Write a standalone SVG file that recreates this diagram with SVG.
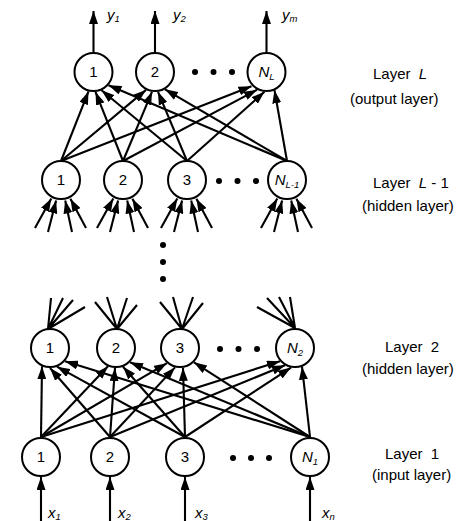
<svg xmlns="http://www.w3.org/2000/svg" width="474" height="521" viewBox="0 0 474 521">
<style>
.n{fill:#fff;stroke:#000;stroke-width:2}
.t{font-family:"Liberation Sans",Arial,sans-serif;font-size:15px;fill:#000}
.c{text-anchor:middle}
.i{font-style:italic}
.sub{font-size:9.5px;font-style:italic}
.e{fill:none;stroke:#000;stroke-width:2.1}
.a{marker-end:url(#ah)}
.d{fill:#000}
</style>
<defs>
<marker id="ah" viewBox="0 0 13 9" refX="13" refY="4.5" markerWidth="13" markerHeight="9" markerUnits="userSpaceOnUse" orient="auto"><path d="M0,0 L13,4.5 L0,9 z" fill="#000"/></marker>
</defs>
<rect width="474" height="521" fill="#fff"/>
<g id="connectors">
<path class="e a" d="M93.5,52 V11"/>
<path class="e a" d="M155,52 V11"/>
<path class="e a" d="M266.5,52 V11"/>
<path class="e a" d="M41,521 V477"/>
<path class="e a" d="M110,521 V477"/>
<path class="e a" d="M185,521 V477"/>
<path class="e a" d="M310,521 V477"/>
<path class="e a" d="M61,161 L88.5,91.4"/>
<path class="e a" d="M123,161 L95.5,91.9"/>
<path class="e a" d="M187,161 L101.5,90.3"/>
<path class="e a" d="M287,161 L108.5,85.2"/>
<path class="e a" d="M61,161 L146,89.9"/>
<path class="e a" d="M123,161 L152,91.8"/>
<path class="e a" d="M187,161 L158,91.8"/>
<path class="e a" d="M287,161 L165,89.3"/>
<path class="e a" d="M61,161 L251.5,86.2"/>
<path class="e a" d="M123,161 L257,89.8"/>
<path class="e a" d="M187,161 L264.5,91.8"/>
<path class="e a" d="M287,161 L274.5,90.3"/>
<path class="e a" d="M35,228 L51.3,198.5"/>
<path class="e a" d="M48,232 L56.1,200.4"/>
<path class="e a" d="M72,232 L65.2,200.5"/>
<path class="e a" d="M86,228 L70.4,198.7"/>
<path class="e a" d="M97,228 L113.3,198.5"/>
<path class="e a" d="M110,232 L118.1,200.4"/>
<path class="e a" d="M134,232 L127.2,200.5"/>
<path class="e a" d="M148,228 L132.4,198.7"/>
<path class="e a" d="M161,228 L177.3,198.5"/>
<path class="e a" d="M174,232 L182.1,200.4"/>
<path class="e a" d="M198,232 L191.2,200.5"/>
<path class="e a" d="M212,228 L196.4,198.7"/>
<path class="e a" d="M261,228 L277.3,198.5"/>
<path class="e a" d="M274,232 L282.1,200.4"/>
<path class="e a" d="M298,232 L291.2,200.5"/>
<path class="e a" d="M312,228 L296.4,198.7"/>
<path class="e" d="M48,329 L51,298 M48,329 L63,298 M48,329 L73,300 M48,329 L85,307"/>
<path class="e" d="M117,329 L95,302 M117,329 L107,297 M117,329 L127,298 M117,329 L137,305"/>
<path class="e" d="M182,329 L160,302 M182,329 L173,297 M182,329 L193,297 M182,329 L203,303"/>
<path class="e" d="M295,328 L257,307 M295,328 L267,298 M295,328 L279,297 M295,328 L290,297"/>
<path class="e a" d="M41,437 L42,366.3"/>
<path class="e a" d="M110,437 L50,368"/>
<path class="e a" d="M185,437 L57,366.7"/>
<path class="e a" d="M310,437 L65,361.2"/>
<path class="e a" d="M41,437 L108,366.3"/>
<path class="e a" d="M110,437 L115,368"/>
<path class="e a" d="M185,437 L123,366.7"/>
<path class="e a" d="M310,437 L130,362.3"/>
<path class="e a" d="M41,437 L167,363.2"/>
<path class="e a" d="M110,437 L175,367.4"/>
<path class="e a" d="M185,437 L183,367.8"/>
<path class="e a" d="M310,437 L194,362.3"/>
<path class="e a" d="M41,437 L280,361.2"/>
<path class="e a" d="M110,437 L285,365.3"/>
<path class="e a" d="M185,437 L291,367.6"/>
<path class="e a" d="M310,437 L302,366.7"/>
</g>
<g id="L1"><circle class="n" cx="93.5" cy="72" r="19"/><text class="t c" x="93.5" y="77.4">1</text></g>
<g id="L2"><circle class="n" cx="155" cy="72" r="19"/><text class="t c" x="155" y="77.4">2</text></g>
<g id="LN"><circle class="n" cx="266.5" cy="72" r="19"/><text class="t c" x="266.5" y="77.4"><tspan class="i">N</tspan><tspan class="sub" dy="3">L</tspan></text></g>
<g id="dotsL"><circle class="d" cx="195" cy="72" r="3"/><circle class="d" cx="213.5" cy="72" r="3"/><circle class="d" cx="232" cy="72" r="3"/></g>
<g id="K1"><circle class="n" cx="61" cy="180" r="19"/><text class="t c" x="61" y="185.4">1</text></g>
<g id="K2"><circle class="n" cx="123" cy="180" r="19"/><text class="t c" x="123" y="185.4">2</text></g>
<g id="K3"><circle class="n" cx="187" cy="180" r="19"/><text class="t c" x="187" y="185.4">3</text></g>
<g id="KN"><circle class="n" cx="287" cy="180" r="19"/><text class="t c" x="287" y="185.4"><tspan class="i">N</tspan><tspan class="sub" dy="3">L-1</tspan></text></g>
<g id="dotsK"><circle class="d" cx="219" cy="181" r="3"/><circle class="d" cx="237.5" cy="181" r="3"/><circle class="d" cx="256" cy="181" r="3"/></g>
<g id="vdots"><circle class="d" cx="163" cy="245" r="3"/><circle class="d" cx="163" cy="262" r="3"/><circle class="d" cx="163" cy="279" r="3"/></g>
<g id="M1"><circle class="n" cx="50" cy="348" r="19"/><text class="t c" x="50" y="353.4">1</text></g>
<g id="M2"><circle class="n" cx="116" cy="348" r="19"/><text class="t c" x="116" y="353.4">2</text></g>
<g id="M3"><circle class="n" cx="180" cy="348" r="19"/><text class="t c" x="180" y="353.4">3</text></g>
<g id="MN"><circle class="n" cx="295" cy="348" r="19"/><text class="t c" x="295" y="353.4"><tspan class="i">N</tspan><tspan class="sub" dy="3">2</tspan></text></g>
<g id="dotsM"><circle class="d" cx="220" cy="349" r="3"/><circle class="d" cx="238.5" cy="349" r="3"/><circle class="d" cx="257" cy="349" r="3"/></g>
<g id="P1"><circle class="n" cx="41" cy="457" r="19"/><text class="t c" x="41" y="462.4">1</text></g>
<g id="P2"><circle class="n" cx="110" cy="457" r="19"/><text class="t c" x="110" y="462.4">2</text></g>
<g id="P3"><circle class="n" cx="185" cy="457" r="19"/><text class="t c" x="185" y="462.4">3</text></g>
<g id="PN"><circle class="n" cx="310" cy="457" r="19"/><text class="t c" x="310" y="462.4"><tspan class="i">N</tspan><tspan class="sub" dy="3">1</tspan></text></g>
<g id="dotsP"><circle class="d" cx="233" cy="458" r="3"/><circle class="d" cx="251" cy="458" r="3"/><circle class="d" cx="269" cy="458" r="3"/></g>
<g id="outlabels">
<text class="t" x="107" y="20"><tspan class="i">y</tspan><tspan class="sub" dy="2">1</tspan></text>
<text class="t" x="173" y="20"><tspan class="i">y</tspan><tspan class="sub" dy="2">2</tspan></text>
<text class="t" x="282" y="20"><tspan class="i">y</tspan><tspan class="sub" dy="2">m</tspan></text>
</g>
<g id="inlabels">
<text class="t" x="48" y="518"><tspan class="i">x</tspan><tspan class="sub" dy="2">1</tspan></text>
<text class="t" x="118" y="518"><tspan class="i">x</tspan><tspan class="sub" dy="2">2</tspan></text>
<text class="t" x="195" y="518"><tspan class="i">x</tspan><tspan class="sub" dy="2">3</tspan></text>
<text class="t" x="322" y="518"><tspan class="i">x</tspan><tspan class="sub" dy="2">n</tspan></text>
</g>
<g id="labels">
<text class="t" x="373" y="79">Layer <tspan class="i" dx="4">L</tspan></text>
<text class="t" x="350" y="104">(output layer)</text>
<text class="t" x="373" y="188">Layer <tspan class="i" dx="4">L</tspan> - 1</text>
<text class="t" x="362" y="211">(hidden layer)</text>
<text class="t" x="385" y="352">Layer <tspan dx="4">2</tspan></text>
<text class="t" x="362" y="374">(hidden layer)</text>
<text class="t" x="385" y="459">Layer <tspan dx="4">1</tspan></text>
<text class="t" x="372" y="480">(input layer)</text>
</g>
</svg>
